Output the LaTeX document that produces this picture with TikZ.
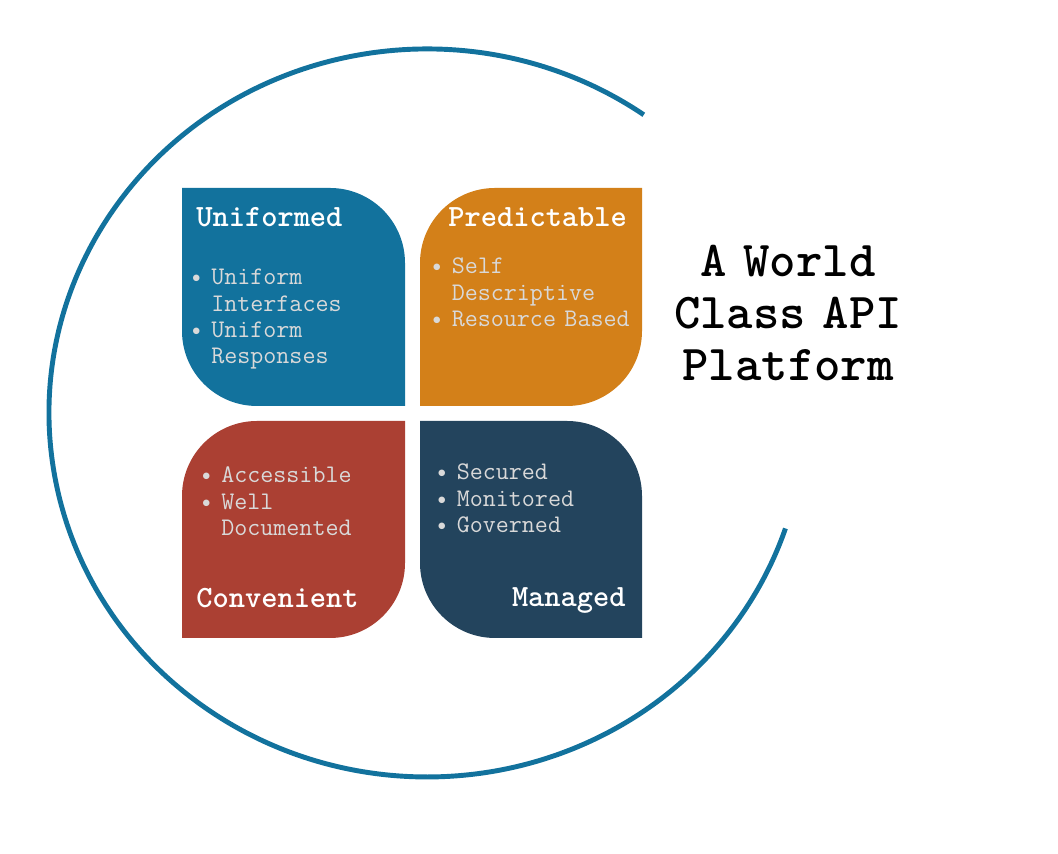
\documentclass[tikz,border=0pt]{standalone}
\usepackage{fontspec}
\usepackage{xcolor}
\usetikzlibrary{positioning}
\definecolor{apiblue}{HTML}{12729D}
\definecolor{apiorange}{HTML}{D38019}
\definecolor{apired}{HTML}{AB4033}
\definecolor{apinavy}{HTML}{23445D}
\definecolor{apigray}{HTML}{D9D9D9}
\newcommand{\bul}{\textbullet\ }
\newcommand{\ind}{\phantom{\textbullet\ }}
\newcommand{\fixspace}{\fontdimen2\font=0.525em\fontdimen3\font=0pt\fontdimen4\font=0pt}
\begin{document}
\begin{tikzpicture}[
          x=0.02cm, y=0.02cm,
          ring/.style={draw=apiblue, line width=2.8pt},
          head/.style={anchor=base west, inner sep=0pt, text=white, font=\ttfamily\bfseries\fontsize{17.6}{20}\selectfont\fixspace},
          items/.style={anchor=base west, inner sep=0pt, text=apigray, text width=5cm, align=left, font=\ttfamily\fontsize{14.4}{14.95}\selectfont\fixspace},
          brand/.style={anchor=base, inner sep=0pt, text width=8cm, align=center, font=\ttfamily\bfseries\fontsize{28.6}{29.5}\selectfont\fixspace}
      ]
        \useasboundingbox (0,0) rectangle (1058,854);
        \draw[ring] (643.8,739.2) arc[start angle=55, end angle=341.5, x radius=378, y radius=364];
        \fill[apiblue] (182,666) -- (330,666) arc[start angle=90, end angle=0, radius=75] -- (405,448) -- (257,448) arc[start angle=270, end angle=180, radius=75] -- cycle;
        \fill[apiorange] (495,666) -- (642,666) -- (642,523) arc[start angle=0, end angle=-90, radius=75] -- (420,448) -- (420,591) arc[start angle=180, end angle=90, radius=75] -- cycle;
        \fill[apired] (257,433) -- (405,433) -- (405,291) arc[start angle=0, end angle=-90, radius=75] -- (182,216) -- (182,358) arc[start angle=180, end angle=90, radius=75] -- cycle;
        \fill[apinavy] (420,433) -- (567,433) arc[start angle=90, end angle=0, radius=75] -- (642,216) -- (495,216) arc[start angle=270, end angle=180, radius=75] -- cycle;
        \node[head] (uni) at (196,627) {Uniformed};
        \node[items] (unilist) at (189.5,569) {\bul Uniform\\\ind Interfaces\\\bul Uniform\\\ind Responses};
        \node[head] (pre) at (448,627) {Predictable};
        \node[items] (prelist) at (430,580) {\bul Self\\\ind Descriptive\\\bul Resource Based};
        \node[items] (conlist) at (199.5,371) {\bul Accessible\\\bul Well\\\ind Documented};
        \node[head] (con) at (196,246) {Convenient};
        \node[items] (manlist) at (435,374) {\bul Secured\\\bul Monitored\\\bul Governed};
        \node[head, anchor=base east] (man) at (626,247) {Managed};
        \node[brand] (title) at (788,577) {A World\\Class API\\Platform};
      \end{tikzpicture}
\end{document}
